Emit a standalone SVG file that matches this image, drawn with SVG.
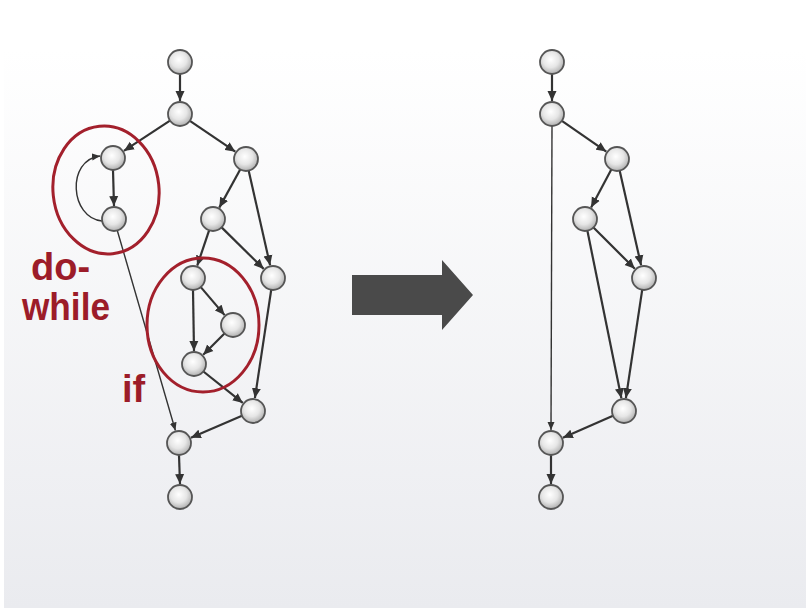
<svg xmlns="http://www.w3.org/2000/svg" width="806" height="610" viewBox="0 0 806 610">
<defs>
<linearGradient id="bg" x1="0" y1="0" x2="0" y2="1">
<stop offset="0" stop-color="#ffffff"/>
<stop offset="1" stop-color="#eaebef"/>
</linearGradient>
<radialGradient id="nodeFill" cx="0.45" cy="0.4" r="0.6">
<stop offset="0" stop-color="#ffffff"/>
<stop offset="0.55" stop-color="#e6e6e6"/>
<stop offset="1" stop-color="#b0b0b0"/>
</radialGradient>
<marker id="ah" markerUnits="userSpaceOnUse" markerWidth="11" markerHeight="10" refX="10" refY="5" orient="auto">
<path d="M0,0.5 L10,5 L0,9.5 z" fill="#333"/>
</marker>
<marker id="ahs" markerUnits="userSpaceOnUse" markerWidth="9" markerHeight="8" refX="8" refY="4" orient="auto">
<path d="M0,0.5 L8,4 L0,7.5 z" fill="#333"/>
</marker>
</defs>
<style>
.node circle{fill:url(#nodeFill);stroke:#555;stroke-width:1.8}
.e{stroke:#333;stroke-width:2.2;fill:none;marker-end:url(#ah)}
.t{stroke:#333;stroke-width:1.4;fill:none;marker-end:url(#ahs)}
.region{fill:none;stroke:#a3202c;stroke-width:3}
.lbl{font-family:"Liberation Sans",Arial,sans-serif;font-weight:bold;font-size:38px;fill:#9c1c29}
</style>
<rect x="0" y="0" width="806" height="610" fill="#ffffff"/>
<rect x="4" y="50" width="802" height="558" fill="url(#bg)"/>

<g id="connectors">
<!-- left graph -->
<line class="e" x1="180" y1="74" x2="180" y2="101"/>
<line class="e" x1="170" y1="120.6" x2="123.9" y2="150.9"/>
<line class="e" x1="189.9" y1="120.8" x2="235.3" y2="151.7"/>
<line class="e" x1="113" y1="170" x2="114" y2="206"/>
<path class="t" d="M102,221 C70,218 66,160 100,156"/>
<line class="t" x1="117.3" y1="230.5" x2="175.4" y2="430.5"/>
<line class="e" x1="240.2" y1="169.5" x2="219.3" y2="207.6"/>
<line class="e" x1="248.7" y1="170.7" x2="270.1" y2="265.3"/>
<line class="e" x1="209.1" y1="230.4" x2="197.2" y2="265.7"/>
<line class="e" x1="221.6" y1="227.4" x2="263.7" y2="268.9"/>
<line class="e" x1="193" y1="290" x2="194" y2="351"/>
<line class="e" x1="200.8" y1="287.1" x2="224.6" y2="315.1"/>
<line class="e" x1="224.5" y1="333.5" x2="203.2" y2="354.8"/>
<line class="e" x1="203.4" y1="371.5" x2="242.8" y2="402.9"/>
<line class="e" x1="271.2" y1="289.9" x2="254.9" y2="398.1"/>
<line class="e" x1="242" y1="415.8" x2="190.9" y2="437.8"/>
<line class="e" x1="179" y1="455" x2="180" y2="484"/>
<!-- right graph -->
<line class="e" x1="552" y1="74" x2="552" y2="101"/>
<line class="t" x1="552" y1="126" x2="551" y2="430"/>
<line class="e" x1="561.9" y1="120.8" x2="606.3" y2="151.6"/>
<line class="e" x1="611.3" y1="169.6" x2="591.1" y2="207.5"/>
<line class="e" x1="619.7" y1="170.7" x2="641.1" y2="265.3"/>
<line class="e" x1="593.5" y1="227.5" x2="634.8" y2="268.8"/>
<line class="e" x1="587.4" y1="230.8" x2="621.4" y2="398.3"/>
<line class="e" x1="642.2" y1="289.9" x2="625.9" y2="398.1"/>
<line class="e" x1="613" y1="415.8" x2="562.9" y2="437.8"/>
<line class="e" x1="551" y1="455" x2="551" y2="484"/>
</g>

<g id="left-nodes">
<g id="nA" class="node"><circle cx="180" cy="62" r="12"/></g>
<g id="nB" class="node"><circle cx="180" cy="114" r="12"/></g>
<g id="nC" class="node"><circle cx="113" cy="158" r="12"/></g>
<g id="nD" class="node"><circle cx="114" cy="219" r="12"/></g>
<g id="nE" class="node"><circle cx="246" cy="159" r="12"/></g>
<g id="nF" class="node"><circle cx="213" cy="219" r="12"/></g>
<g id="nG" class="node"><circle cx="193" cy="278" r="12"/></g>
<g id="nH" class="node"><circle cx="273" cy="278" r="12"/></g>
<g id="nI" class="node"><circle cx="233" cy="325" r="12"/></g>
<g id="nJ" class="node"><circle cx="194" cy="364" r="12"/></g>
<g id="nK" class="node"><circle cx="253" cy="411" r="12"/></g>
<g id="nL" class="node"><circle cx="179" cy="443" r="12"/></g>
<g id="nM" class="node"><circle cx="180" cy="497" r="12"/></g>
</g>

<g id="right-nodes">
<g id="rA" class="node"><circle cx="552" cy="62" r="12"/></g>
<g id="rB" class="node"><circle cx="552" cy="114" r="12"/></g>
<g id="rE" class="node"><circle cx="617" cy="159" r="12"/></g>
<g id="rF" class="node"><circle cx="585" cy="219" r="12"/></g>
<g id="rH" class="node"><circle cx="644" cy="278" r="12"/></g>
<g id="rK" class="node"><circle cx="624" cy="411" r="12"/></g>
<g id="rL" class="node"><circle cx="551" cy="443" r="12"/></g>
<g id="rM" class="node"><circle cx="551" cy="497" r="12"/></g>
</g>

<g id="regions">
<ellipse class="region" cx="106" cy="190" rx="53" ry="64" transform="rotate(-6 106 190)"/>
<ellipse class="region" cx="203" cy="325" rx="56" ry="67"/>
</g>

<g id="labels">
<text class="lbl" x="31" y="280">do-</text>
<text class="lbl" x="22" y="320" textLength="88" lengthAdjust="spacingAndGlyphs">while</text>
<text class="lbl" x="122" y="402">if</text>
</g>

<g id="big-arrow">
<polygon points="352,275 442,275 442,260 473,295 442,330 442,315 352,315" fill="#4a4a4a"/>
</g>
</svg>
